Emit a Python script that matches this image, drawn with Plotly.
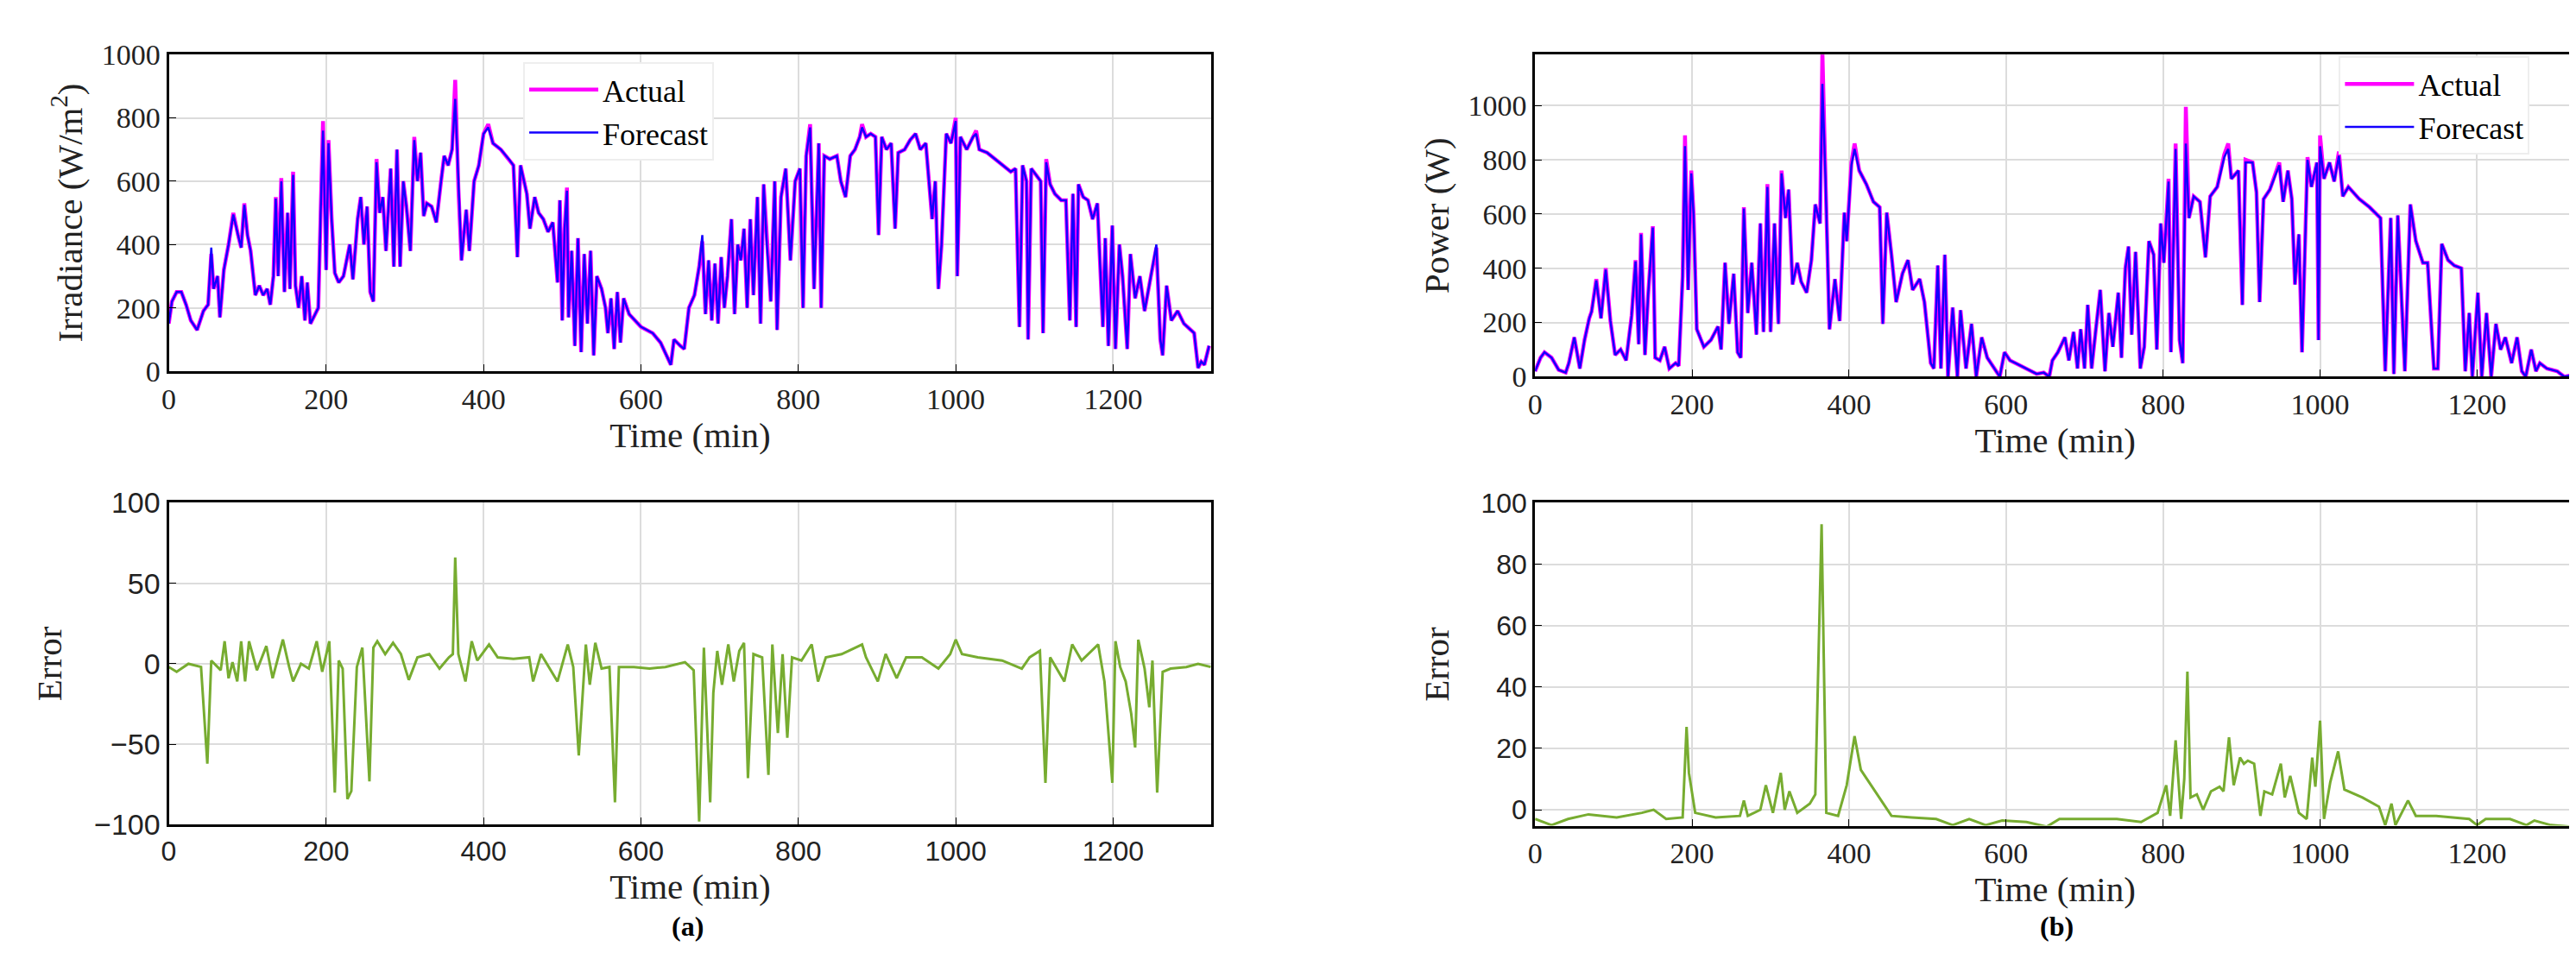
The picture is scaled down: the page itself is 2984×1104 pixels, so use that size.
import plotly.graph_objects as go
from plotly.subplots import make_subplots

# irradiance (W/m2), actual vs forecast
irr_time = [0, 4, 10, 16, 22, 28, 36, 44, 50, 54,
            57, 62, 65, 70, 76, 82, 88, 92, 96, 100,
            104, 110, 115, 120, 125, 129, 133, 136, 139, 143,
            147, 151, 154, 158, 161, 165, 169, 173, 176, 180,
            186, 190, 193, 196, 200, 203, 207, 211, 216, 222,
            230, 234, 240, 244, 248, 252, 256, 260, 264, 268,
            272, 276, 282, 286, 290, 294, 298, 302, 307, 312,
            316, 320, 324, 328, 334, 340, 346, 350, 355, 360,
            364, 368, 372, 378, 382, 388, 394, 400, 406, 412,
            422, 432, 438, 443, 447, 455, 459, 465, 470, 476,
            482, 488, 494, 497, 500, 503, 506, 508, 512, 516,
            520, 524, 528, 532, 536, 540, 544, 550, 555, 558,
            562, 566, 570, 574, 578, 585, 600, 615, 625, 638,
            642, 650, 655, 661, 668, 674, 678, 682, 686, 690,
            694, 698, 702, 706, 710, 715, 719, 723, 727, 731,
            735, 739, 743, 748, 752, 756, 760, 765, 770, 773,
            778, 784, 790, 796, 802, 806, 810, 815, 820, 826,
            829, 833, 840, 849, 854, 860, 866, 872, 878, 881,
            886, 892, 898, 902, 906, 912, 918, 923, 927, 935,
            942, 949, 955, 962, 966, 970, 974, 978, 982, 988,
            994, 1000, 1002, 1006, 1014, 1022, 1026, 1030, 1040, 1050,
            1060, 1070, 1076, 1081, 1085, 1090, 1092, 1096, 1102, 1108,
            1111, 1115, 1120, 1126, 1134, 1140, 1145, 1149, 1153, 1156,
            1162, 1168, 1174, 1180, 1187, 1190, 1194, 1199, 1203, 1208,
            1212, 1218, 1222, 1228, 1234, 1240, 1248, 1255, 1260, 1263,
            1268, 1274, 1282, 1290, 1303, 1308, 1312, 1316, 1322]
irr_actual = [150, 220, 250, 250, 210, 160, 130, 190, 210, 370,
              260, 300, 170, 320, 400, 500, 430, 390, 530, 430,
              380, 240, 270, 240, 260, 210, 300, 550, 300, 610,
              250, 500, 260, 630, 270, 200, 300, 160, 280, 150,
              180, 200, 500, 790, 320, 730, 480, 310, 280, 300,
              400, 290, 480, 550, 400, 520, 250, 220, 670, 500,
              550, 380, 640, 330, 700, 330, 600, 520, 380, 740,
              600, 690, 490, 530, 520, 470, 600, 680, 650, 700,
              920, 580, 350, 510, 380, 600, 650, 750, 780, 720,
              700, 670, 650, 360, 650, 560, 450, 550, 500, 480,
              440, 470, 280, 540, 160, 450, 580, 170, 380, 80,
              420, 60, 370, 150, 380, 50, 300, 260, 200, 120,
              230, 70, 250, 90, 230, 180, 140, 120, 90, 20,
              100, 80, 70, 200, 240, 330, 410, 180, 350, 160,
              340, 150, 360, 200, 300, 480, 180, 400, 350, 450,
              200, 480, 240, 550, 150, 590, 400, 220, 600, 130,
              550, 640, 350, 600, 640, 200, 680, 780, 260, 720,
              200, 680, 670, 680, 600, 550, 680, 700, 740, 780,
              740, 750, 740, 430, 740, 700, 720, 450, 690, 700,
              730, 750, 700, 720, 600, 480, 600, 260, 400, 750,
              720, 800, 300, 740, 700, 740, 760, 700, 690, 670,
              650, 630, 640, 140, 650, 600, 100, 640, 620, 600,
              120, 670, 590, 560, 540, 540, 160, 560, 140, 590,
              550, 540, 480, 530, 140, 420, 80, 460, 70, 400,
              300, 70, 370, 230, 300, 190, 300, 390, 100, 50,
              270, 160, 190, 150, 120, 10, 30, 20, 80]
irr_forecast = [150, 220, 250, 250, 210, 160, 130, 190, 210, 390,
                260, 300, 170, 320, 400, 495, 430, 390, 525, 430,
                380, 240, 270, 240, 260, 210, 300, 545, 300, 600,
                250, 500, 260, 620, 270, 200, 300, 160, 280, 150,
                180, 200, 500, 760, 320, 720, 480, 310, 280, 300,
                400, 290, 480, 550, 400, 520, 250, 220, 660, 500,
                550, 380, 640, 330, 700, 330, 600, 520, 380, 730,
                600, 690, 490, 530, 520, 470, 600, 680, 650, 700,
                860, 580, 350, 510, 380, 600, 650, 750, 770, 720,
                700, 670, 650, 360, 650, 560, 450, 550, 500, 480,
                440, 470, 280, 540, 160, 450, 570, 170, 380, 80,
                420, 60, 370, 150, 380, 50, 300, 260, 200, 120,
                230, 70, 250, 90, 230, 180, 140, 120, 90, 20,
                100, 80, 70, 200, 240, 330, 430, 180, 350, 160,
                340, 150, 360, 200, 300, 480, 180, 400, 350, 450,
                200, 480, 240, 550, 150, 590, 400, 220, 600, 130,
                550, 640, 350, 600, 640, 200, 680, 770, 260, 720,
                200, 680, 670, 680, 600, 550, 680, 700, 740, 770,
                740, 750, 740, 430, 740, 700, 720, 450, 690, 700,
                730, 750, 700, 720, 600, 480, 600, 260, 400, 750,
                720, 790, 300, 740, 700, 740, 750, 700, 690, 670,
                650, 630, 640, 140, 650, 600, 100, 640, 620, 600,
                120, 660, 590, 560, 540, 540, 160, 560, 140, 590,
                550, 540, 480, 530, 140, 420, 80, 460, 70, 400,
                300, 70, 370, 230, 300, 190, 300, 400, 100, 50,
                270, 160, 190, 150, 120, 10, 30, 20, 80]

# PV power (W), actual vs forecast
pow_time = [0, 7, 12, 21, 30, 39, 43, 50, 57, 63,
            69, 72, 78, 84, 90, 96, 102, 109, 116, 123,
            128, 132, 135, 140, 144, 150, 153, 159, 165, 171,
            179, 183, 188, 191, 195, 199, 202, 206, 215, 224,
            233, 237, 242, 247, 253, 258, 262, 266, 271, 276,
            282, 287, 291, 296, 300, 305, 310, 314, 319, 323,
            328, 334, 339, 346, 352, 357, 363, 366, 370, 375,
            382, 388, 394, 397, 403, 407, 413, 422, 431, 439,
            443, 448, 454, 460, 468, 475, 481, 490, 496, 504,
            508, 513, 517, 522, 526, 532, 538, 542, 549, 556,
            562, 569, 576, 585, 592, 598, 605, 612, 625, 639,
            648, 655, 659, 666, 675, 680, 686, 691, 695, 700,
            704, 709, 714, 720, 726, 731, 736, 743, 747, 752,
            756, 760, 765, 771, 776, 782, 788, 792, 797, 801,
            807, 810, 816, 821, 825, 829, 833, 839, 847, 854,
            860, 869, 878, 883, 887, 896, 901, 905, 914, 919,
            923, 928, 936, 948, 953, 959, 964, 968, 973, 977,
            984, 989, 996, 998, 1000, 1005, 1012, 1018, 1024, 1029,
            1036, 1050, 1063, 1077, 1083, 1090, 1094, 1099, 1108, 1115,
            1122, 1131, 1137, 1145, 1150, 1155, 1163, 1171, 1180, 1185,
            1190, 1194, 1201, 1206, 1212, 1218, 1224, 1230, 1236, 1244,
            1251, 1257, 1262, 1269, 1275, 1280, 1289, 1302, 1311, 1320]
pow_actual = [20, 70, 90, 70, 25, 15, 50, 145, 30, 135,
              215, 240, 360, 215, 400, 205, 80, 100, 60, 225,
              430, 120, 530, 80, 300, 555, 70, 60, 110, 30,
              50, 40, 370, 890, 320, 760, 595, 175, 110, 135,
              185, 100, 420, 195, 380, 90, 70, 625, 235, 420,
              155, 565, 165, 710, 165, 565, 195, 760, 585, 690,
              340, 420, 350, 310, 430, 635, 565, 1200, 730, 175,
              360, 205, 605, 500, 790, 860, 760, 710, 645, 625,
              195, 605, 450, 275, 380, 430, 320, 360, 275, 50,
              30, 410, 30, 450, 0, 255, 0, 245, 30, 195,
              0, 145, 70, 30, 0, 90, 60, 50, 30, 10,
              15, 0, 60, 90, 145, 60, 165, 30, 175, 30,
              265, 30, 165, 320, 20, 235, 110, 310, 70, 400,
              480, 155, 460, 30, 110, 500, 450, 100, 565, 420,
              730, 90, 860, 135, 50, 995, 585, 665, 645, 440,
              665, 700, 820, 860, 730, 760, 265, 800, 790, 680,
              275, 655, 690, 790, 645, 760, 655, 340, 525, 90,
              810, 700, 790, 135, 890, 730, 790, 720, 830, 665,
              700, 655, 625, 585, 20, 585, 10, 595, 20, 635,
              500, 420, 420, 30, 30, 490, 430, 410, 400, 20,
              235, 0, 310, 0, 235, 0, 195, 100, 145, 50,
              145, 20, 0, 100, 20, 50, 30, 20, 0, 5]
pow_forecast = [20, 70, 90, 70, 25, 15, 50, 145, 30, 135,
                215, 240, 355, 215, 395, 205, 80, 100, 60, 225,
                425, 120, 525, 80, 300, 550, 70, 60, 110, 30,
                50, 40, 370, 850, 320, 750, 595, 175, 110, 135,
                185, 100, 420, 195, 380, 90, 70, 620, 235, 420,
                155, 565, 165, 700, 165, 565, 195, 750, 585, 690,
                340, 420, 350, 310, 430, 635, 565, 1080, 730, 175,
                360, 205, 605, 500, 780, 840, 760, 710, 645, 625,
                195, 605, 450, 275, 380, 430, 320, 360, 275, 50,
                30, 410, 30, 450, 0, 255, 0, 245, 30, 195,
                0, 145, 70, 30, 0, 90, 60, 50, 30, 10,
                15, 0, 60, 90, 145, 60, 165, 30, 175, 30,
                265, 30, 165, 320, 20, 235, 110, 310, 70, 400,
                480, 155, 460, 30, 110, 500, 450, 100, 565, 420,
                720, 90, 840, 135, 50, 860, 585, 665, 645, 440,
                665, 700, 810, 840, 730, 760, 265, 790, 790, 680,
                275, 655, 690, 780, 645, 760, 655, 340, 525, 90,
                800, 700, 790, 135, 850, 730, 790, 720, 815, 665,
                700, 655, 625, 585, 20, 585, 10, 595, 20, 635,
                500, 420, 420, 30, 30, 490, 430, 410, 400, 20,
                235, 0, 310, 0, 235, 0, 195, 100, 145, 50,
                145, 20, 0, 100, 20, 50, 30, 20, 0, 5]

# irradiance forecast error
err_a_time = [0, 10, 25, 41, 49, 54, 66, 71, 76, 81,
              87, 92, 97, 102, 112, 124, 132, 145, 153, 158,
              168, 178, 188, 195, 204, 211, 216, 221, 227, 232,
              239, 246, 255, 260, 265, 275, 285, 295, 305, 316,
              331, 344, 356, 361, 364, 368, 377, 385, 392, 407,
              418, 438, 458, 463, 473, 483, 494, 507, 514, 521,
              530, 535, 542, 550, 560, 567, 572, 591, 611, 631,
              656, 667, 674, 680, 684, 688, 692, 697, 703, 711,
              718, 725, 731, 736, 743, 754, 762, 767, 774, 780,
              786, 792, 804, 817, 825, 835, 855, 881, 886, 901,
              911, 925, 937, 957, 978, 993, 1000, 1008, 1028, 1059,
              1084, 1094, 1107, 1114, 1120, 1138, 1148, 1160, 1181, 1189,
              1199, 1203, 1209, 1216, 1223, 1228, 1232, 1240, 1246, 1250,
              1256, 1263, 1273, 1293, 1308, 1324]
err_a = [-2, -5, 0, -2, -62, 2, -4, 14, -9, 1,
         -11, 14, -11, 14, -4, 11, -9, 15, -2, -11,
         0, -3, 14, -5, 14, -80, 2, -3, -84, -79,
         -2, 10, -73, 10, 14, 6, 13, 6, -10, 4,
         6, -3, 4, 6, 66, 6, -11, 14, 2, 12,
         4, 3, 4, -11, 6, -2, -11, 12, -2, -57,
         12, -13, 13, -3, -2, -86, -2, -2, -3, -2,
         1, -4, -98, 10, -35, -86, -18, 8, -13, 12,
         -11, 8, 13, -71, 6, 4, -69, 12, -43, 6,
         -46, 4, 2, 12, -11, 4, 6, 12, 4, -11,
         6, -9, 4, 4, -3, 6, 15, 6, 4, 2,
         -3, 4, 8, -74, 4, -11, 12, 2, 12, -11,
         -74, 14, -2, -11, -31, -52, 15, -3, -27, 2,
         -80, -5, -3, -2, 0, -2]

# power forecast error
err_b_time = [0, 21, 42, 68, 104, 136, 151, 167, 188, 193,
              196, 204, 230, 261, 266, 271, 287, 294, 303, 313,
              318, 324, 334, 350, 357, 365, 371, 386, 397, 407,
              415, 428, 444, 454, 480, 511, 532, 553, 574, 595,
              626, 652, 668, 699, 741, 772, 793, 804, 809, 816,
              823, 827, 831, 835, 843, 851, 861, 872, 877, 884,
              890, 898, 903, 908, 916, 924, 929, 939, 950, 955,
              962, 973, 983, 990, 994, 1000, 1005, 1013, 1023, 1031,
              1054, 1075, 1083, 1091, 1096, 1112, 1122, 1148, 1190, 1200,
              1211, 1242, 1263, 1273, 1294, 1320]
err_b = [-3, -5, -3, -1.5, -2.5, -1, 0, -3, -2.5, 27,
         12, -1, -2.5, -2, 3, -2, 0, 8, -1, 12,
         0, 6, -1, 2, 5, 93, -1, -2, 8, 24,
         13, 8, 2, -2, -2.5, -3, -5, -3, -5, -3.5,
         -4, -5.5, -3, -3, -3, -4, -1, 8, -2, 22.6,
         -3, 10, 45, 4, 5, 0, 6, 7.5, 6, 23.6,
         8, 17, 15, 16, 15, -2, 6, 5, 15, 4,
         11, -1, -3, 17, 7.5, 29, -3, 9, 19, 6.6,
         4, 1, -5, 2, -5, 3, -2, -2, -3, -5,
         -3, -3, -5, -3.5, -5, -5.5]

serif = 'Liberation Serif'
sans = 'Liberation Sans'
magenta = '#FF00FF'
blue = '#1400FF'
green = '#77AC30'

fig = make_subplots(rows=2, cols=2)

fig.add_trace(go.Scatter(x=irr_time, y=irr_actual, mode='lines', name='Actual',
                         line=dict(color=magenta, width=4.5), legend='legend'), row=1, col=1)
fig.add_trace(go.Scatter(x=irr_time, y=irr_forecast, mode='lines', name='Forecast',
                         line=dict(color=blue, width=2.5), legend='legend'), row=1, col=1)
fig.add_trace(go.Scatter(x=pow_time, y=pow_actual, mode='lines', name='Actual',
                         line=dict(color=magenta, width=4.5), legend='legend2'), row=1, col=2)
fig.add_trace(go.Scatter(x=pow_time, y=pow_forecast, mode='lines', name='Forecast',
                         line=dict(color=blue, width=2.5), legend='legend2'), row=1, col=2)
fig.add_trace(go.Scatter(x=err_a_time, y=err_a, mode='lines', showlegend=False,
                         line=dict(color=green, width=3)), row=2, col=1)
fig.add_trace(go.Scatter(x=err_b_time, y=err_b, mode='lines', showlegend=False,
                         line=dict(color=green, width=3)), row=2, col=2)

axis_style = dict(showline=True, linecolor='black', linewidth=3, mirror=True,
                  ticks='inside', ticklen=8, tickcolor='black',
                  showgrid=True, gridcolor='#DCDCDC', gridwidth=2, zeroline=False)

legend_style = dict(font=dict(family=serif, size=36, color='black'),
                    bgcolor='white', bordercolor='#EEEEEE', borderwidth=2,
                    tracegroupgap=0, itemwidth=80)

fig.update_layout(
    width=2984, height=1104,
    margin=dict(l=0, r=0, t=0, b=0),
    plot_bgcolor='white', paper_bgcolor='white',
    font=dict(family=serif, size=34, color='#222222'),
    xaxis=dict(domain=[0.06, 0.466], range=[0, 1325], dtick=200, **axis_style),
    yaxis=dict(domain=[0.622, 0.966], range=[0, 1000], dtick=200, **axis_style,
               title=dict(text='Irradiance (W/m<sup>2</sup>)', standoff=10)),
    xaxis2=dict(domain=[0.592, 0.997], range=[0, 1325], dtick=200, **axis_style),
    yaxis2=dict(domain=[0.616, 0.966], range=[0, 1188], dtick=200, **axis_style,
                title=dict(text='Power (W)', standoff=10)),
    xaxis3=dict(domain=[0.06, 0.466], range=[0, 1325], dtick=200, **axis_style,
                tickfont=dict(family=sans, size=32)),
    yaxis3=dict(domain=[0.129, 0.479], range=[-100, 100], dtick=50, **axis_style,
                tickfont=dict(family=sans, size=34),
                title=dict(text='Error', standoff=25)),
    xaxis4=dict(domain=[0.592, 0.997], range=[0, 1325], dtick=200, **axis_style),
    yaxis4=dict(domain=[0.128, 0.479], range=[-5.2, 100], dtick=20, **axis_style,
                tickfont=dict(family=sans, size=32),
                title=dict(text='Error', standoff=25)),
    legend=dict(x=0.198, y=0.958, xanchor='left', yanchor='top', **legend_style),
    legend2=dict(x=0.905, y=0.964, xanchor='left', yanchor='top', **legend_style),
)

for ax in ['xaxis', 'xaxis2', 'xaxis3', 'xaxis4']:
    fig.layout[ax].title = dict(text='Time (min)', standoff=2)

fig.add_annotation(text='<b>(a)</b>', x=0.262, y=0.0, xref='paper', yref='paper',
                   xanchor='center', yanchor='bottom', showarrow=False,
                   font=dict(family=serif, size=32, color='black'))
fig.add_annotation(text='<b>(b)</b>', x=0.795, y=0.0, xref='paper', yref='paper',
                   xanchor='center', yanchor='bottom', showarrow=False,
                   font=dict(family=serif, size=32, color='black'))

fig.write_html("out.html")
